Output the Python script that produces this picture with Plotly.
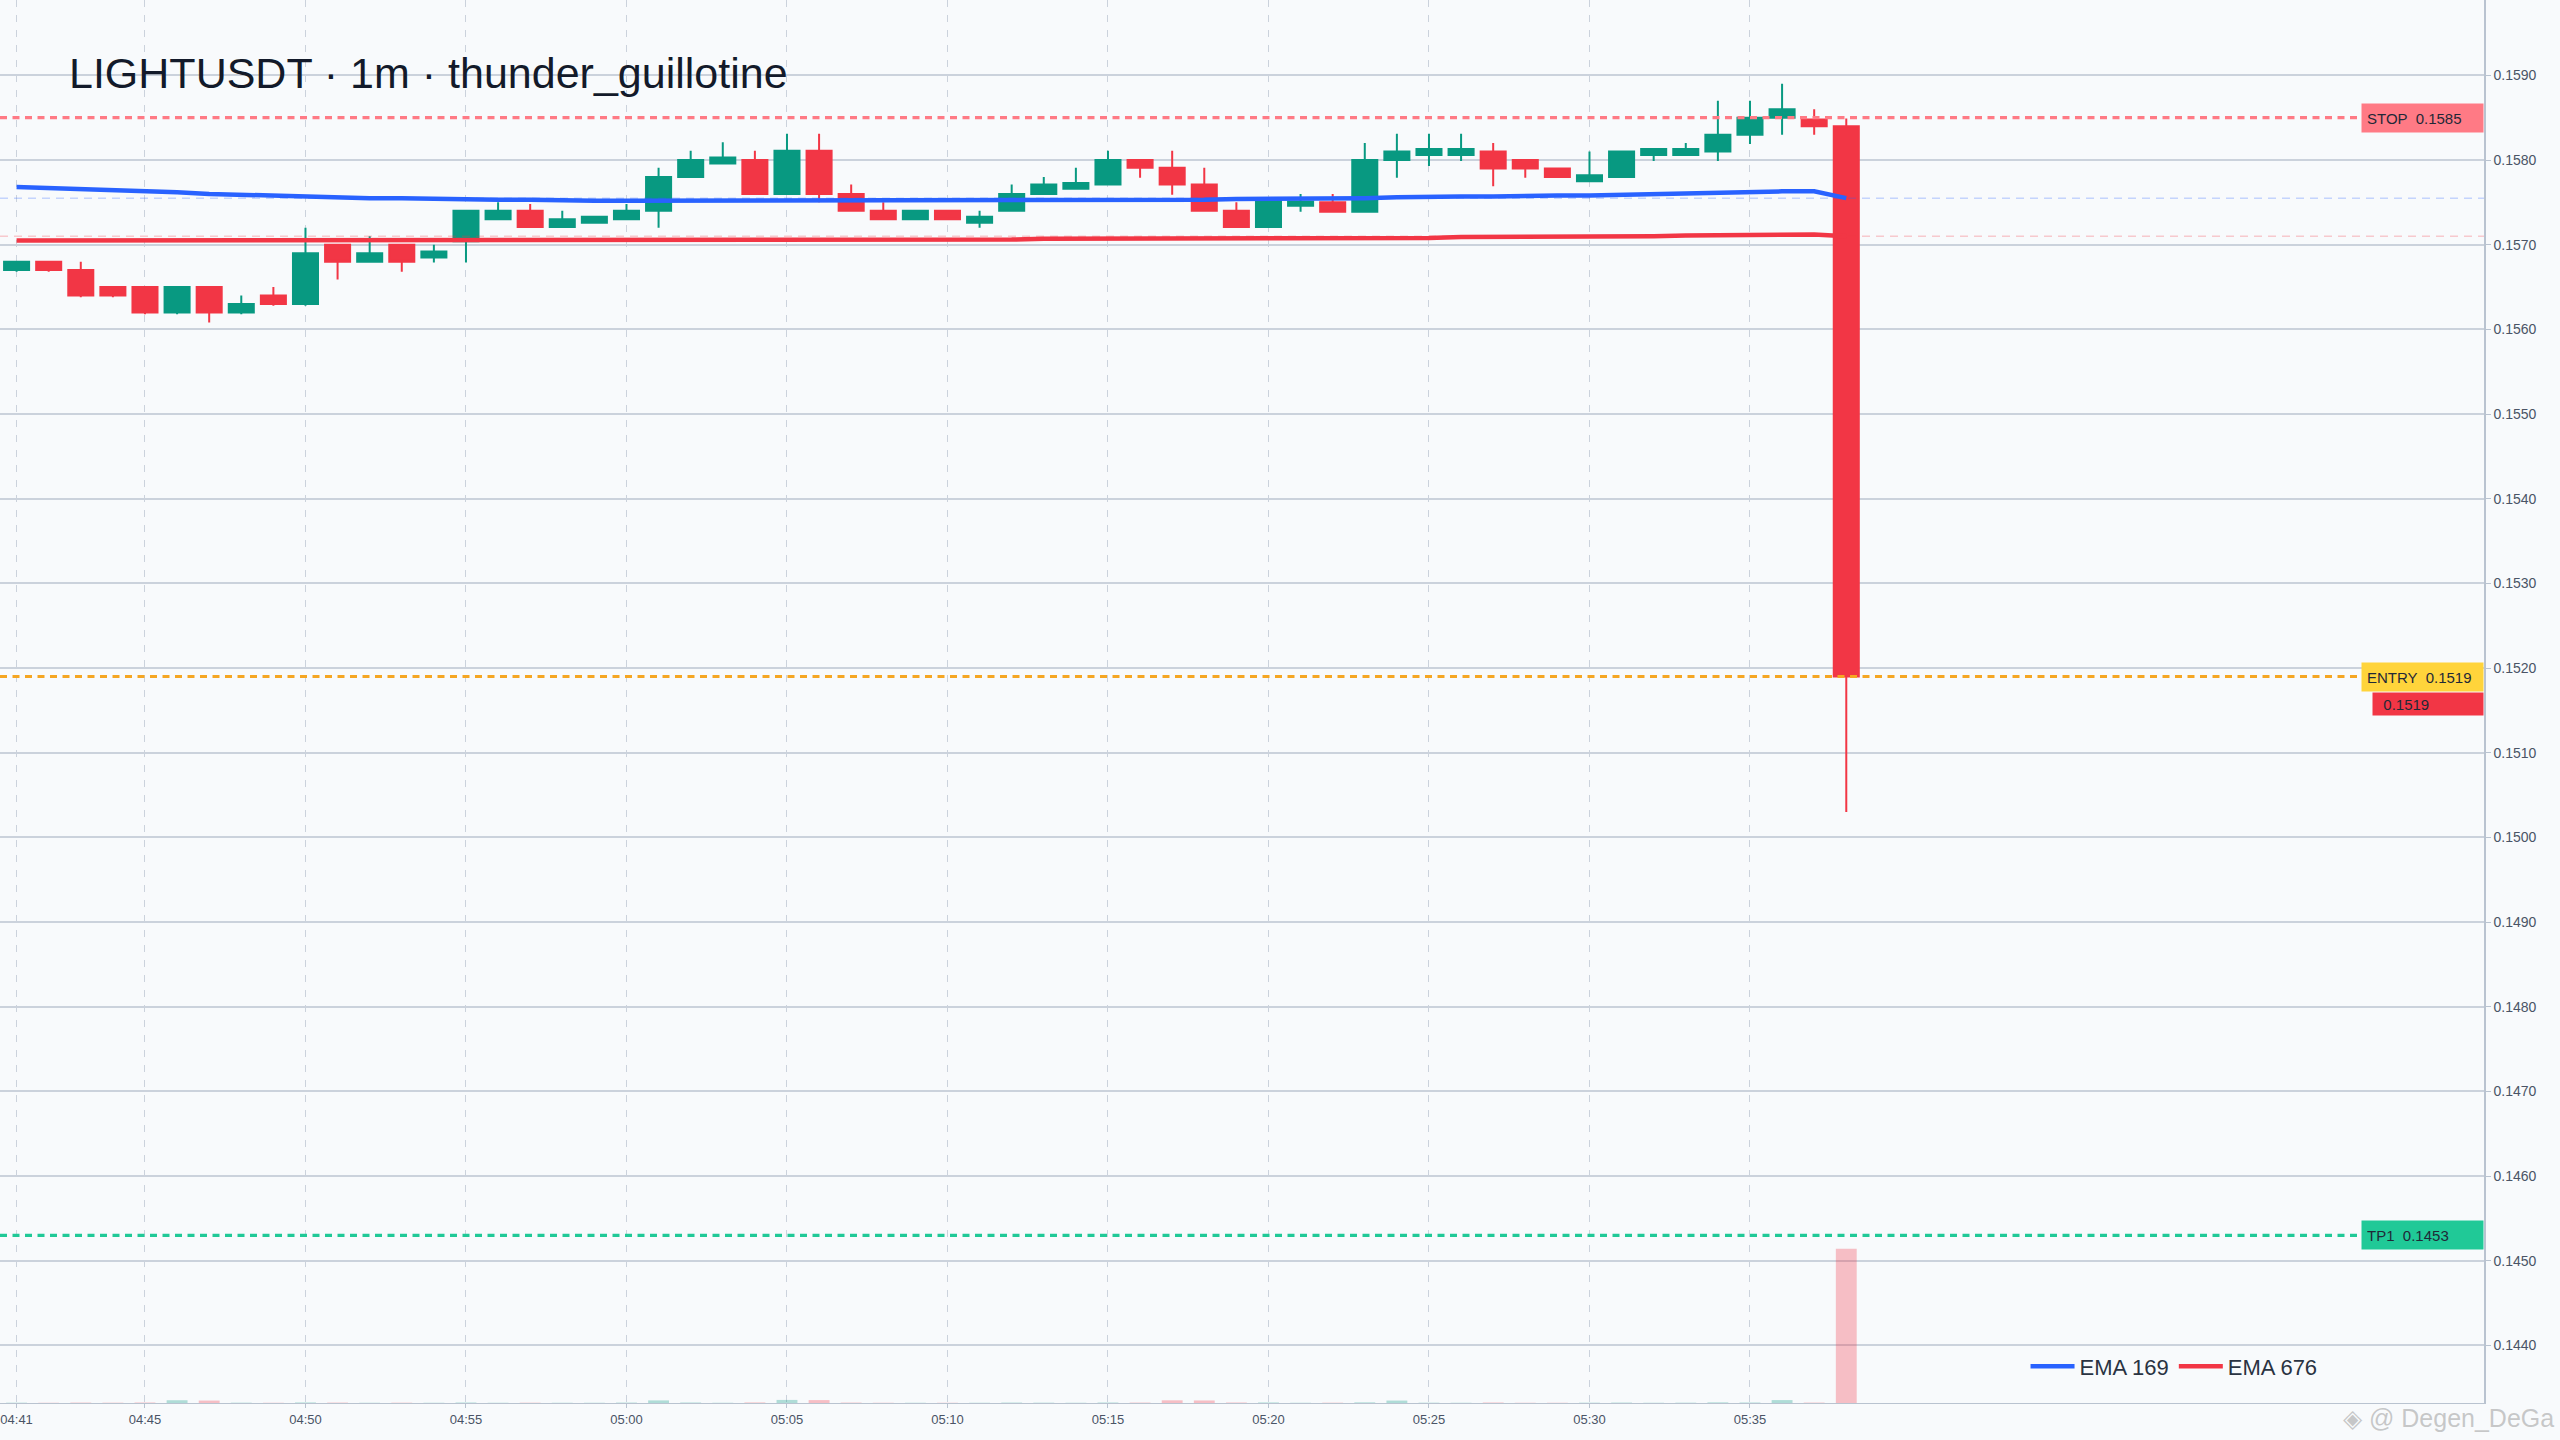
import pandas as pd
import plotly.graph_objects as go

# 1m candles 04:41 .. 05:38
times = pd.date_range("2024-01-01 04:41", periods=58, freq="1min")

opens = [0.15670, 0.15680, 0.15670, 0.15650, 0.15650, 0.15620, 0.15650, 0.15620, 0.15640, 0.15630,
         0.15700, 0.15680, 0.15700, 0.15685, 0.15704, 0.15730, 0.15740, 0.15721, 0.15726, 0.15730,
         0.15740, 0.15780, 0.15796, 0.15800, 0.15760, 0.15811, 0.15760, 0.15740, 0.15730, 0.15740,
         0.15726, 0.15740, 0.15760, 0.15766, 0.15771, 0.15800, 0.15791, 0.15771, 0.15740, 0.15721,
         0.15746, 0.15750, 0.15739, 0.15800, 0.15806, 0.15806, 0.15810, 0.15800, 0.15790, 0.15775,
         0.15780, 0.15806, 0.15806, 0.15810, 0.15830, 0.15850, 0.15848, 0.15840]
highs = [0.15680, 0.15680, 0.15680, 0.15650, 0.15650, 0.15650, 0.15650, 0.15640, 0.15650, 0.15720,
         0.15700, 0.15710, 0.15700, 0.15700, 0.15740, 0.15750, 0.15748, 0.15740, 0.15733, 0.15748,
         0.15791, 0.15811, 0.15821, 0.15811, 0.15831, 0.15831, 0.15771, 0.15750, 0.15740, 0.15740,
         0.15740, 0.15771, 0.15780, 0.15791, 0.15811, 0.15800, 0.15811, 0.15791, 0.15750, 0.15752,
         0.15760, 0.15760, 0.15820, 0.15831, 0.15831, 0.15831, 0.15820, 0.15800, 0.15790, 0.15810,
         0.15810, 0.15813, 0.15820, 0.15870, 0.15870, 0.15890, 0.15860, 0.15849]
lows = [0.15668, 0.15668, 0.15638, 0.15638, 0.15618, 0.15618, 0.15608, 0.15618, 0.15628, 0.15628,
        0.15659, 0.15679, 0.15668, 0.15679, 0.15679, 0.15729, 0.15720, 0.15720, 0.15726, 0.15730,
        0.15720, 0.15779, 0.15796, 0.15759, 0.15759, 0.15750, 0.15739, 0.15729, 0.15729, 0.15729,
        0.15720, 0.15739, 0.15759, 0.15766, 0.15770, 0.15779, 0.15759, 0.15739, 0.15720, 0.15720,
        0.15739, 0.15738, 0.15738, 0.15779, 0.15793, 0.15799, 0.15769, 0.15779, 0.15779, 0.15775,
        0.15779, 0.15799, 0.15806, 0.15799, 0.15819, 0.15830, 0.15830, 0.15030]
closes = [0.15680, 0.15670, 0.15640, 0.15640, 0.15620, 0.15650, 0.15620, 0.15630, 0.15630, 0.15690,
          0.15680, 0.15690, 0.15680, 0.15692, 0.15740, 0.15740, 0.15721, 0.15730, 0.15733, 0.15740,
          0.15780, 0.15800, 0.15803, 0.15760, 0.15811, 0.15760, 0.15740, 0.15730, 0.15740, 0.15730,
          0.15733, 0.15760, 0.15771, 0.15773, 0.15800, 0.15791, 0.15771, 0.15740, 0.15721, 0.15752,
          0.15751, 0.15739, 0.15800, 0.15810, 0.15813, 0.15813, 0.15790, 0.15790, 0.15780, 0.15782,
          0.15810, 0.15813, 0.15813, 0.15830, 0.15850, 0.15860, 0.15840, 0.15190]
volumes = [4000, 3000, 5000, 4000, 6000, 34000, 30000, 4000, 3000, 7000,
           5000, 3000, 4000, 3000, 6000, 3000, 4000, 3000, 3000, 5000,
           32000, 6000, 3000, 7000, 38000, 36000, 5000, 3000, 3000, 3000,
           3000, 5000, 4000, 3000, 6000, 5000, 33000, 31000, 6000, 7000,
           3000, 4000, 8000, 30000, 4000, 3000, 6000, 3000, 3000, 4000,
           5000, 3000, 4000, 8000, 6000, 36000, 5000, 1900000]

ema169 = [0.15768, 0.15767, 0.15765, 0.15764, 0.15763, 0.15762, 0.15760, 0.15759, 0.15757, 0.15756,
          0.15756, 0.15755, 0.15755, 0.15754, 0.15753, 0.15753, 0.15753, 0.15752, 0.15752, 0.15752,
          0.15752, 0.15752, 0.15753, 0.15753, 0.15753, 0.15753, 0.15753, 0.15753, 0.15753, 0.15753,
          0.15753, 0.15753, 0.15753, 0.15753, 0.15753, 0.15753, 0.15753, 0.15753, 0.15754, 0.15754,
          0.15754, 0.15755, 0.15755, 0.15756, 0.15757, 0.15757, 0.15757, 0.15758, 0.15758, 0.15758,
          0.15759, 0.15759, 0.15760, 0.15761, 0.15762, 0.15763, 0.15763, 0.15755]
ema676 = [0.15705, 0.15705, 0.15705, 0.15705, 0.15705, 0.15705, 0.15705, 0.15705, 0.15705, 0.15705,
          0.15705, 0.15705, 0.15705, 0.15705, 0.15705, 0.15705, 0.15705, 0.15705, 0.15705, 0.15705,
          0.15706, 0.15706, 0.15706, 0.15706, 0.15706, 0.15706, 0.15706, 0.15706, 0.15706, 0.15706,
          0.15706, 0.15706, 0.15707, 0.15707, 0.15707, 0.15707, 0.15707, 0.15707, 0.15707, 0.15708,
          0.15708, 0.15708, 0.15708, 0.15708, 0.15708, 0.15709, 0.15709, 0.15709, 0.15710, 0.15710,
          0.15710, 0.15710, 0.15711, 0.15711, 0.15712, 0.15712, 0.15712, 0.15710]

stop_price = 0.1585
entry_price = 0.1519
tp1_price = 0.1453

xticks = ["2024-01-01 04:41", "2024-01-01 04:45", "2024-01-01 04:50", "2024-01-01 04:55",
          "2024-01-01 05:00", "2024-01-01 05:05", "2024-01-01 05:10", "2024-01-01 05:15",
          "2024-01-01 05:20", "2024-01-01 05:25", "2024-01-01 05:30", "2024-01-01 05:35"]
yticks = [0.1440, 0.1450, 0.1460, 0.1470, 0.1480, 0.1490, 0.1500, 0.1510,
          0.1520, 0.1530, 0.1540, 0.1550, 0.1560, 0.1570, 0.1580, 0.1590]

UP = "#089981"
DOWN = "#f23645"
FONT = "Liberation Sans, Arial, sans-serif"
GRID = "#cbd2dc"

vol_colors = ["rgba(8,153,129,0.3)" if c >= o else "rgba(242,54,69,0.3)"
              for o, c in zip(opens, closes)]

fig = go.Figure()

fig.add_trace(go.Bar(
    x=times, y=volumes, yaxis="y2",
    marker=dict(color=vol_colors, line=dict(width=0)),
    showlegend=False, hoverinfo="skip",
))

fig.add_trace(go.Candlestick(
    x=times, open=opens, high=highs, low=lows, close=closes,
    increasing=dict(line=dict(color=UP, width=2), fillcolor=UP),
    decreasing=dict(line=dict(color=DOWN, width=2), fillcolor=DOWN),
    whiskerwidth=0, showlegend=False,
))

fig.add_trace(go.Scatter(x=times, y=ema169, mode="lines", name="EMA 169",
                         line=dict(color="#2962ff", width=4.5)))
fig.add_trace(go.Scatter(x=times, y=ema676, mode="lines", name="EMA 676",
                         line=dict(color="#f23645", width=4.5)))

# faint last-value lines of the EMAs
fig.add_hline(y=ema169[-1], line=dict(color="rgba(41,98,255,0.25)", width=1.5, dash="8px,6px"))
fig.add_hline(y=ema676[-1], line=dict(color="rgba(242,54,69,0.25)", width=1.5, dash="8px,6px"))

# trade levels
fig.add_hline(y=stop_price, line=dict(color="#ff7a85", width=3.3, dash="7px,5.5px"))
fig.add_hline(y=entry_price, line=dict(color="#f5a623", width=3, dash="7px,5.5px"))
fig.add_hline(y=tp1_price, line=dict(color="#20c997", width=3.3, dash="7px,5.5px"))

def level_label(y, text, bg, yshift=0, width=111, pad=5):
    fig.add_annotation(
        x=1, xref="paper", xanchor="right", y=y, yref="y", yanchor="middle",
        text=text, showarrow=False, align="left", yshift=yshift,
        width=width, height=18, borderpad=pad, bgcolor=bg,
        font=dict(family=FONT, size=15, color="#1f2937"),
    )

level_label(stop_price, "STOP  %.4f" % stop_price, "#ff7a85")
level_label(entry_price, "ENTRY  %.4f" % entry_price, "#ffd43b")
level_label(entry_price, "  %.4f" % closes[-1], DOWN, yshift=-27, width=106, pad=2)
level_label(tp1_price, "TP1  %.4f" % tp1_price, "#20c997")

fig.add_annotation(
    x=0.027, xref="paper", xanchor="left", y=0.948, yref="paper", yanchor="middle",
    text="LIGHTUSDT · 1m · thunder_guillotine", showarrow=False,
    font=dict(family=FONT, size=43, color="#131a2a"),
)

fig.add_annotation(
    x=1.029, xref="paper", xanchor="right", y=-0.011, yref="paper", yanchor="middle",
    text="◈ @ Degen_DeGa", showarrow=False,
    font=dict(family=FONT, size=25, color="rgba(165,165,165,0.6)"),
)

fig.update_layout(
    width=2560, height=1440,
    margin=dict(l=0, r=76, t=0, b=37),
    paper_bgcolor="#f8fafc", plot_bgcolor="#f8fafc",
    boxgap=0.22, boxgroupgap=0, bargap=0.35,
    hovermode=False,
    legend=dict(orientation="h", x=0.935, xanchor="right", y=0.026, yanchor="middle",
                bgcolor="rgba(0,0,0,0)", itemwidth=44,
                font=dict(family=FONT, size=22, color="#2a3342")),
    xaxis=dict(
        range=["2024-01-01 04:40:29", "2024-01-01 05:57:52"],
        rangeslider=dict(visible=False),
        tickvals=xticks, tickformat="%H:%M",
        showgrid=True, gridcolor=GRID, griddash="7px,8px", gridwidth=1,
        showline=True, linecolor="#b9c3d0", linewidth=1,
        ticks="outside", ticklen=4, tickcolor="#b9c3d0",
        tickfont=dict(family=FONT, size=13, color="#4a5466"),
        zeroline=False,
    ),
    yaxis=dict(
        range=[0.14332, 0.15989], side="right",
        tickvals=yticks, tickformat=".4f",
        showgrid=True, gridcolor=GRID, gridwidth=1.5,
        showline=True, linecolor="#b9c3d0", linewidth=1.5,
        ticks="outside", ticklen=5, tickcolor="#b9c3d0",
        tickfont=dict(family=FONT, size=14, color="#4a5466"),
        zeroline=False,
    ),
    yaxis2=dict(overlaying="y", range=[0, max(volumes) * 9.1], visible=False),
)

fig.write_html("out.html", config={"displayModeBar": False},
               post_script="document.body.style.margin='0px';")
